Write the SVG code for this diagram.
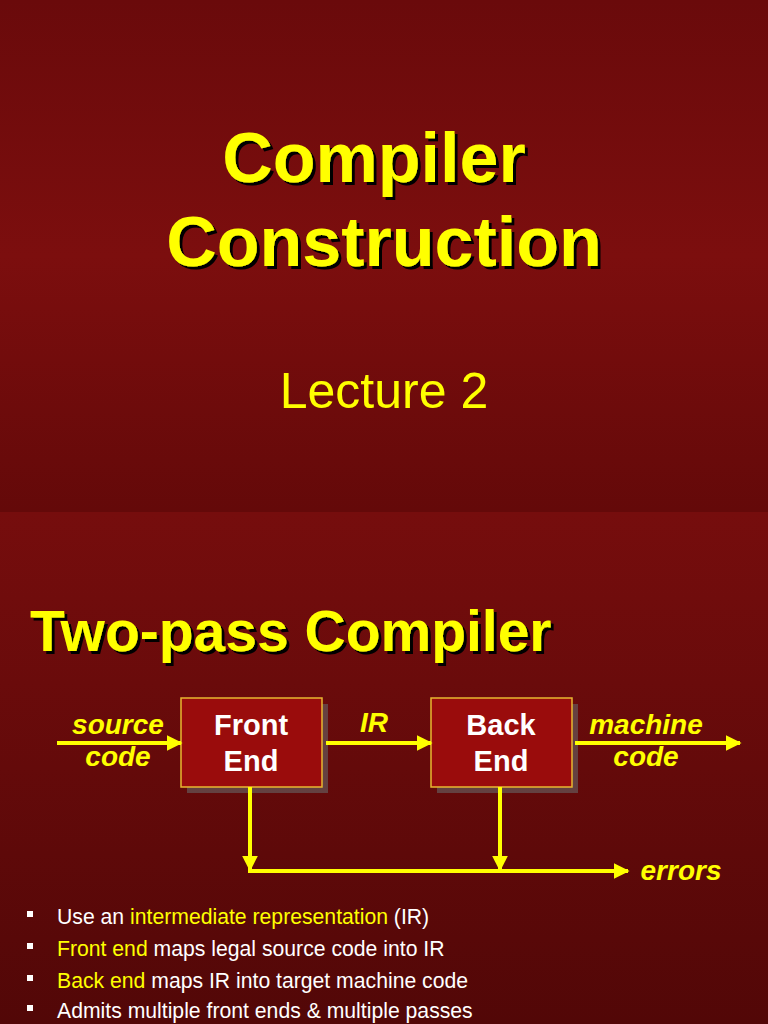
<svg xmlns="http://www.w3.org/2000/svg" width="768" height="1024" viewBox="0 0 768 1024">
<defs>
<linearGradient id="bg1" x1="0" y1="0" x2="0" y2="1"><stop offset="0" stop-color="#6a0a0b"/><stop offset="0.5" stop-color="#7c0e0e"/><stop offset="1" stop-color="#640909"/></linearGradient>
<linearGradient id="bg2" x1="0" y1="0" x2="0" y2="1"><stop offset="0" stop-color="#760d0d"/><stop offset="1" stop-color="#520707"/></linearGradient>
<marker id="ah" viewBox="0 0 10 10" refX="9" refY="5" markerWidth="4" markerHeight="4" orient="auto" markerUnits="strokeWidth"><path d="M0,0 L10,5 L0,10 z" fill="#ffff00"/></marker>
<filter id="sh"><feDropShadow dx="3" dy="3" stdDeviation="0.5" flood-color="#000"/></filter>
</defs>
<style>
.t{font-family:"Liberation Sans",Arial,sans-serif;fill:#ffff00}
.big{font-weight:bold;font-size:70px;filter:url(#sh)}
.lab{font-style:italic;font-weight:bold;font-size:28px;text-anchor:middle}
.box{fill:#9a0c0c;stroke:#e8b830;stroke-width:1.5}
.bs{fill:#666;opacity:0.6}
.bt{font-family:"Liberation Sans",Arial,sans-serif;fill:#ffffff;font-size:29px;font-weight:bold;text-anchor:middle}
.ln{stroke:#ffff00;stroke-width:4;fill:none}
.bl{font-family:"Liberation Sans",Arial,sans-serif;fill:#ffffff;font-size:21.2px}
</style>
<rect x="0" y="0" width="768" height="512" fill="url(#bg1)"/>
<rect x="0" y="512" width="768" height="512" fill="url(#bg2)"/>
<text class="t big" x="374" y="182" text-anchor="middle">Compiler</text>
<text class="t big" x="384" y="266" text-anchor="middle">Construction</text>
<text class="t" x="384" y="408" text-anchor="middle" font-size="50">Lecture 2</text>
<text class="t" x="30" y="651" font-size="57" font-weight="bold" filter="url(#sh)">Two-pass Compiler</text>
<g id="front-end"><rect class="bs" x="187" y="704" width="141" height="89"/><rect class="box" x="181" y="698" width="141" height="89"/><text class="bt" x="251" y="735">Front</text><text class="bt" x="251" y="771">End</text></g>
<g id="back-end"><rect class="bs" x="437" y="704" width="141" height="89"/><rect class="box" x="431" y="698" width="141" height="89"/><text class="bt" x="501" y="735">Back</text><text class="bt" x="501" y="771">End</text></g>
<g id="connectors">
<line class="ln" x1="57" y1="743" x2="181" y2="743" marker-end="url(#ah)"/>
<line class="ln" x1="326" y1="743" x2="431" y2="743" marker-end="url(#ah)"/>
<line class="ln" x1="575" y1="743" x2="740" y2="743" marker-end="url(#ah)"/>
<line class="ln" x1="250" y1="787" x2="250" y2="870" marker-end="url(#ah)"/>
<line class="ln" x1="500" y1="787" x2="500" y2="870" marker-end="url(#ah)"/>
<line class="ln" x1="248" y1="871" x2="628" y2="871" marker-end="url(#ah)"/>
</g>
<text class="t lab" x="118" y="734">source</text>
<text class="t lab" x="118" y="766">code</text>
<text class="t lab" x="374" y="732">IR</text>
<text class="t lab" x="646" y="734">machine</text>
<text class="t lab" x="646" y="766">code</text>
<text class="t lab" x="681" y="880">errors</text>
<g fill="#ffffff"><rect x="27" y="911" width="6" height="6"/><rect x="27" y="943" width="6" height="6"/><rect x="27" y="975" width="6" height="6"/><rect x="27" y="1005" width="6" height="6"/></g>
<text class="bl" x="57" y="924">Use an <tspan fill="#ffff00">intermediate representation</tspan> (IR)</text>
<text class="bl" x="57" y="956"><tspan fill="#ffff00">Front end</tspan> maps legal source code into IR</text>
<text class="bl" x="57" y="988"><tspan fill="#ffff00">Back end</tspan> maps IR into target machine code</text>
<text class="bl" x="57" y="1018">Admits multiple front ends &amp; multiple passes</text>
</svg>
